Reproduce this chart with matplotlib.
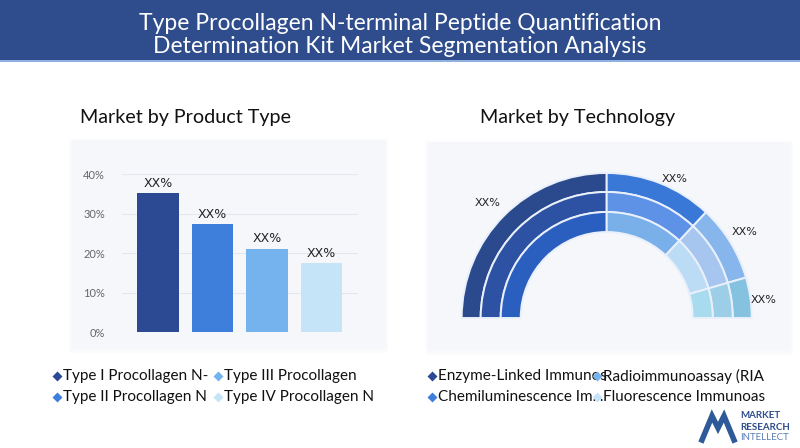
import matplotlib
matplotlib.use("Agg")
import matplotlib.pyplot as plt
from matplotlib.patches import Rectangle
import numpy as np

# ---------------- data ----------------
title = "Type Procollagen N-terminal Peptide Quantification\nDetermination Kit Market Segmentation Analysis"
left_title = "Market by Product Type"
right_title = "Market by Technology"

product_types = ["Type I Procollagen N-", "Type II Procollagen N", "Type III Procollagen", "Type IV Procollagen N"]
product_values = [35.2, 27.5, 21.2, 17.5]
product_labels = ["XX%", "XX%", "XX%", "XX%"]
product_colors = ["#2c4a94", "#3f7fdc", "#74b3ee", "#c6e4f8"]
y_ticks = [0, 10, 20, 30, 40]
y_tick_labels = ["0%", "10%", "20%", "30%", "40%"]

technologies = ["Enzyme-Linked Immunos", "Chemiluminescence Im...", "Radioimmunoassay (RIA", "Fluorescence Immunoas"]
tech_values = [50, 24, 17, 9]
tech_labels = ["XX%", "XX%", "XX%", "XX%"]
tech_legend_colors = ["#2c4a94", "#3f7fdc", "#74b3ee", "#c6e4f8"]
ring_colors = [  # outer, middle, inner
    ["#2b4a8e", "#3a78d8", "#86b6ec", "#84c2e0"],
    ["#2d52a3", "#5d92e6", "#a6c6f0", "#9ccfe7"],
    ["#2a5fc0", "#79b0ea", "#bcdcf6", "#a9dbef"],
]

FONT = ["Lato", "DejaVu Sans"]
plt.rcParams['font.family'] = FONT

W, H = 800, 448
fig = plt.figure(figsize=(8, 4.48), dpi=100)
fig.patch.set_facecolor("white")

# background overlay axes in pixel coords (y down)
bg = fig.add_axes([0, 0, 1, 1])
bg.set_xlim(0, W)
bg.set_ylim(H, 0)
bg.axis("off")
bg.set_zorder(0)

# header band
bg.add_patch(Rectangle((0, 0), W, 62, facecolor="#2f4d8c", edgecolor="none"))
bg.add_patch(Rectangle((0, 60), W, 2.5, facecolor="#8fb0e0", edgecolor="none"))
bg.text(W / 2, 35, title, ha="center", va="center", color="white",
        fontsize=16.5, linespacing=1.08)

# cards (soft shadow + face)
for dx, a in [(3, 0.05), (1.5, 0.06)]:
    bg.add_patch(Rectangle((72 - dx, 140 - dx + 2), 313 + 2 * dx, 208 + 2 * dx,
                           facecolor="#c8d0e0", alpha=a, edgecolor="none"))
    bg.add_patch(Rectangle((428 - dx, 142 - dx + 2), 362 + 2 * dx, 208 + 2 * dx,
                           facecolor="#c8d0e0", alpha=a, edgecolor="none"))
bg.add_patch(Rectangle((72, 140), 313, 208, facecolor="#f5f7fb", edgecolor="none"))
bg.add_patch(Rectangle((428, 142), 362, 208, facecolor="#f5f7fb", edgecolor="none"))

bg.text(186, 118, left_title, ha="center", va="center", fontsize=14.2, color="#111111")
bg.text(578, 118, right_title, ha="center", va="center", fontsize=14.2, color="#111111")

# ---------------- bar chart ----------------
axb = fig.add_axes([121.7 / W, (H - 332.3) / H, (358.3 - 121.7) / W, (332.3 - 174.3) / H])
axb.set_zorder(2)
axb.patch.set_alpha(0)
x = np.arange(len(product_values))
axb.bar(x, product_values, width=0.76, color=product_colors, zorder=3)
for xi, v, lab in zip(x, product_values, product_labels):
    axb.text(xi, v + 0.8, lab, ha="center", va="bottom", fontsize=9, color="#222222",
             family=["DejaVu Sans"], clip_on=False)
axb.set_xlim(-0.666, 3.675)
axb.set_ylim(0, 40)
axb.set_yticks(y_ticks)
axb.set_yticklabels(y_tick_labels, fontsize=8, color="#666666")
axb.set_xticks([])
axb.tick_params(axis="y", length=0, pad=12)
axb.grid(axis="y", color="#e3e7ef", lw=0.8, zorder=0)
for s in axb.spines.values():
    s.set_visible(False)

# ---------------- semi donut ----------------
R = 145.0
cx, cy = 606.7, 318.0
axd = fig.add_axes([(cx - 1.2 * R) / W, (H - cy - 0.1 * R) / H, 2.4 * R / W, 1.3 * R / H])
axd.set_zorder(2)
axd.patch.set_alpha(0)
radii = [1.0, 0.869, 0.731]
widths = [0.131, 0.138, 0.138]
total = sum(tech_values)
for r, w, cols in zip(radii, widths, ring_colors):
    wedges, _ = axd.pie(tech_values + [total], radius=r, startangle=180, counterclock=False,
                        colors=cols + ["none"],
                        wedgeprops=dict(width=w, edgecolor="#e9f0fb", linewidth=1.4))
    wedges[-1].set_visible(False)
axd.set_xlim(-1.2, 1.2)
axd.set_ylim(-0.1, 1.2)
axd.set_aspect("equal")
axd.axis("off")

# labels outside
label_pos = [(1.14, 136), (1.07, 64), (1.12, 32), (1.09, 6.5)]
for (rr, ang), lab in zip(label_pos, tech_labels):
    a = np.deg2rad(ang)
    axd.text(rr * np.cos(a), rr * np.sin(a), lab, ha="center", va="center",
             fontsize=8, color="#222222", family=["DejaVu Sans"])

# ---------------- legends ----------------
leg_left = [(57, 376, 0), (57, 397, 1), (218, 376, 2), (218, 397, 3)]
for lx, ly, i in leg_left:
    bg.plot(lx, ly, marker="D", ms=5, color=product_colors[i], mec="none")
    bg.text(lx + 6, ly, product_types[i], ha="left", va="center", fontsize=11, color="#111111")

leg_right = [(432, 376, 0), (432, 397, 1), (597, 376, 2), (597, 397, 3)]
for lx, ly, i in leg_right:
    bg.plot(lx, ly, marker="D", ms=5, color=tech_legend_colors[i], mec="none", zorder=5)
    bg.text(lx + 6, ly, technologies[i], ha="left", va="center", fontsize=11, color="#111111")

# logo
bg.plot([702, 712, 718, 724, 734], [440, 416, 428, 416, 440], color="#2f5a9a", lw=4,
        solid_joinstyle="miter")
bg.text(740, 416, "MARKET", ha="left", va="center", fontsize=7, color="#2f4d8c", weight="bold")
bg.text(740, 427, "RESEARCH", ha="left", va="center", fontsize=7, color="#2f4d8c", weight="bold")
bg.text(740, 438, "INTELLECT", ha="left", va="center", fontsize=7, color="#5b7fb5")

fig.savefig("out.png", dpi=100, facecolor=fig.get_facecolor())
